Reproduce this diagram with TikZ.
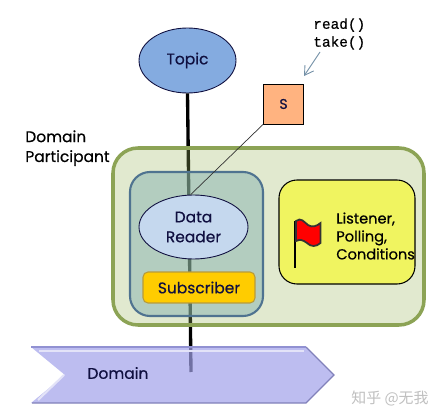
\documentclass[tikz,border=0pt]{standalone}
\usepackage{fontspec}
\usepackage{xcolor}
\setmainfont{Poppins}[RawFeature={embolden=0.5}]
\setmonofont{Liberation Mono}[RawFeature={embolden=0.5}]
\newfontfamily\cjkfont{Noto Sans CJK SC}
\usetikzlibrary{shapes.geometric,arrows.meta}

\definecolor{topicblue}{HTML}{84ABE0}
\definecolor{readerblue}{HTML}{C5D8EE}
\definecolor{partgreen}{HTML}{9BB65F}
\definecolor{partedge}{HTML}{8CA355}
\definecolor{subteal}{HTML}{85B1AF}
\definecolor{subedge}{HTML}{4F7390}
\definecolor{orangebox}{HTML}{FFCC00}
\definecolor{orangeedge}{HTML}{B79A3A}
\definecolor{yellowbox}{HTML}{F0F460}
\definecolor{sbox}{HTML}{FFB380}
\definecolor{domainblue}{HTML}{A1A1E9}
\definecolor{navytext}{HTML}{101040}

\tikzset{
  label text/.style={font=\fontsize{8.8}{10}\selectfont, text=navytext, inner sep=0pt},
  entity/.style={ellipse, draw=navytext, line width=0.5pt, inner sep=0pt, align=center, font=\fontsize{8.8}{11.3}\selectfont, text=navytext},
}

\begin{document}
\begin{tikzpicture}[x=0.02cm,y=-0.02cm]

\useasboundingbox (0,0) rectangle (437,419);

\node[entity, fill=topicblue, minimum width=1.94cm, minimum height=1.3cm] (topic) at (187.5,60.5) {\raisebox{-1.2pt}{Topic}};
\coordinate (domainend) at (191,372);

\draw[line width=1.9pt] (topic.south) -- (domainend);  % topic line

% participant
\fill[partgreen, fill opacity=0.3, rounded corners=0.5cm] (113,148) rectangle (424,325);
\draw[partedge, line width=2pt, rounded corners=0.5cm] (113,148) rectangle (424,325);

% subscriber box
\fill[subteal, fill opacity=0.5, rounded corners=0.4cm] (130,172) rectangle (263,316);
\draw[subedge, line width=1.2pt, rounded corners=0.4cm] (130,172) rectangle (263,316);

\node[entity, fill=readerblue, minimum width=2.18cm, minimum height=1.28cm] (reader) at (193.5,227) {Data\\Reader};

\node[draw=orangeedge, fill=orangebox, rounded corners=0.1cm, line width=0.6pt, minimum width=2.24cm, minimum height=0.62cm, inner sep=0pt, font=\fontsize{8.8}{10}\selectfont, text=navytext] (subscriber) at (199,287.5) {Subscriber};

% listener box
\draw[fill=yellowbox, rounded corners=0.36cm, line width=0.6pt] (279,180) rectangle (415,284);
\node[anchor=west, align=left, inner sep=0pt, font=\fontsize{8.3}{10.2}\selectfont] (listener) at (336,236) {Listener,\\Polling,\\Conditions};

% flag
\draw[line width=1.5pt] (295,221) -- (295,268);
\draw[fill=red, line width=1pt, draw=black!80] (296,221) .. controls (301,217) and (304,222) .. (308,225) .. controls (312,228) and (317,226) .. (320.5,223) -- (320.5,243) .. controls (316,247) and (311,247) .. (307,243) .. controls (303,240) and (300,239) .. (296,241) -- cycle;

% S box
\node[draw, fill=sbox, minimum size=0.8cm, inner sep=0pt, line width=0.5pt, font=\fontsize{8}{10}\selectfont, text=navytext] (s) at (283.5,104) {S};
\draw[line width=0.4pt, black!80] (s.south west) -- (reader.95);

\node[anchor=west, align=left, inner sep=0pt, font=\ttfamily\fontsize{8.2}{10.2}\selectfont] (calls) at (313,34) {read()\\take()};
\coordinate (callsend) at (320,52);
\draw[-{Straight Barb[length=5pt,width=6pt]}, line width=0.5pt, subedge!80] (callsend) -- (304,76);

\node[anchor=north west, align=left, inner sep=0pt, font=\fontsize{8.8}{11.3}\selectfont, text=black] (participant) at (25,130) {Domain\\Participant};

% domain
\fill[domainblue, fill opacity=0.7] (31,347) -- (306,347) -- (334,375) -- (306,403) -- (31,403) -- (65,375) -- cycle;
\draw[white!70!domainblue, line width=1.2pt] (39,351) -- (304,351);
\draw[white!70!domainblue, line width=1.2pt] (64,375) -- (38,400);
\draw[domainblue!80!black, line width=0.8pt] (32,403) -- (306,403) -- (334,375) -- (306,347);
\draw[domainblue!90!black, line width=0.6pt] (31,347) -- (306,347);
\node[label text] (domain) at (118,373) {Domain};

\node[text=black!25, inner sep=0pt, font=\cjkfont\fontsize{8.5}{10}\selectfont] (mark) at (390,399) {知乎 @无我};

\end{tikzpicture}
\end{document}
